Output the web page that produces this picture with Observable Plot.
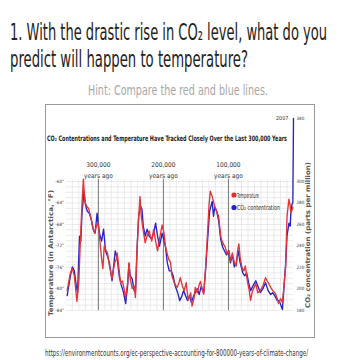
<!DOCTYPE html>
<html><head><meta charset="utf-8">
<script src="https://cdn.jsdelivr.net/npm/d3@7"></script>
<script src="https://cdn.jsdelivr.net/npm/@observablehq/plot@0.6"></script>
<style>
html,body{margin:0;padding:0;background:#fff;}
#page{position:relative;width:360px;height:360px;overflow:hidden;}
#box{position:absolute;left:45px;top:104px;width:270px;height:234px;border:1px solid #9a9a9a;box-sizing:border-box;}
#chart{position:absolute;left:0;top:0;}
#overlay{position:absolute;left:0;top:0;pointer-events:none;}
#overlay text{font-family:"Liberation Sans Narrow","DejaVu Sans Condensed","Liberation Sans",sans-serif;}
</style></head>
<body><div id="page">
<div id="box"></div>
<div id="chart" style="left:45px;top:104px;"></div>
<svg id="overlay" width="360" height="360">
  <text x="10" y="39.5" font-size="23" fill="#222" textLength="317" lengthAdjust="spacingAndGlyphs">1. With the drastic rise in CO₂ level, what do you</text>
  <text x="10" y="66.5" font-size="23" fill="#222" textLength="238" lengthAdjust="spacingAndGlyphs">predict will happen to temperature?</text>
  <text x="88" y="94.5" font-size="13.5" fill="#a8a8a8" textLength="180" lengthAdjust="spacingAndGlyphs">Hint: Compare the red and blue lines.</text>
  <text x="47" y="141" font-size="7.5" font-weight="bold" fill="#222" textLength="240" lengthAdjust="spacingAndGlyphs">CO₂ Contentrations and Temperature Have Tracked Closely Over the Last 300,000 Years</text>
  <text transform="translate(52.5,253) rotate(-90)" text-anchor="middle" font-size="6.5" font-weight="bold" fill="#555" textLength="126" lengthAdjust="spacingAndGlyphs">Temperature (in Antarctica, °F)</text>
  <text transform="translate(309.5,235) rotate(-90)" text-anchor="middle" font-size="6.5" font-weight="bold" fill="#555" textLength="146" lengthAdjust="spacingAndGlyphs">CO₂ concentration (parts per million)</text>
  <circle cx="234" cy="195" r="2.6" fill="#d93030"></circle>
  <text x="237" y="197.5" font-size="7" fill="#333" textLength="22" lengthAdjust="spacingAndGlyphs">Temperature</text>
  <circle cx="234" cy="207.5" r="2.6" fill="#2222c8"></circle>
  <text x="237" y="210" font-size="7" fill="#333" textLength="43" lengthAdjust="spacingAndGlyphs">CO₂ contentration</text>
  <text x="45" y="355.5" font-size="9" fill="#333" textLength="263" lengthAdjust="spacingAndGlyphs">https://environmentcounts.org/ec-perspective-accounting-for-800000-years-of-climate-change/</text>
</svg>
</div>
<script>
// Temperature in Antarctica (°F), thousands of years relative to present
const tempYears = [-348,-343,-340,-337,-333,-330,-328,-325,-323,-321,
-318,-315,-312,-309,-306,-303,-300,-298,-295,-293,
-291,-288,-286,-283,-279,-275,-272,-271,-268,-266,
-263,-260,-258,-255,-253,-251,-248,-245,-243,-241,
-238,-236,-234,-231,-228,-225,-222,-218,-215,-212,
-209,-206,-202,-199,-197,-194,-192,-189,-187,-184,
-182,-179,-176,-174,-171,-168,-165,-162,-158,-156,
-153,-151,-148,-145,-143,-140,-138,-135,-132,-130,
-128,-125,-122,-120,-117,-115,-112,-110,-107,-105,
-102,-99,-97,-94,-91,-88,-86,-84,-82,-79,
-76,-74,-71,-68,-66,-63,-58,-55,-51,-47,
-43,-39,-35,-32,-28,-25,-23,-20,-17,-15,
-12,-10,-7,-5,-4,-2,-1];
const tempValues = [-80.3,-77.0,-76.2,-77.5,-82.3,-78.5,-72.0,-63.7,-59.4,-63.7,
-64.6,-65.0,-66.5,-68.3,-69.6,-68.3,-67.7,-70.7,-74.4,-76.2,
-72.0,-72.9,-73.3,-75.7,-78.1,-75.1,-74.4,-73.3,-76.6,-78.8,
-78.5,-80.3,-81.6,-78.8,-75.1,-78.1,-79.9,-79.4,-81.6,-73.8,
-66.5,-62.8,-66.5,-69.2,-71.4,-70.1,-69.2,-71.1,-68.9,-71.1,
-72.9,-70.7,-68.1,-69.6,-72.0,-73.5,-74.4,-75.1,-77.5,-78.6,
-79.2,-79.7,-78.8,-77.9,-79.4,-80.3,-78.8,-82.1,-80.7,-83.2,
-81.8,-79.7,-80.7,-79.2,-78.6,-80.3,-81.0,-75.7,-69.2,-64.6,
-61.8,-62.8,-64.2,-65.0,-65.9,-66.6,-70.1,-71.1,-71.8,-72.2,
-73.5,-72.9,-74.8,-73.3,-75.1,-75.7,-72.9,-71.6,-74.2,-76.1,
-76.6,-75.7,-78.5,-80.3,-82.1,-80.3,-79.0,-80.7,-80.3,-79.4,
-77.9,-78.8,-79.7,-80.3,-80.8,-81.8,-82.7,-81.8,-82.5,-79.9,
-75.7,-66.5,-63.3,-64.6,-65.9,-65.2,-64.8];

// CO2 concentration (ppm)
const co2Years = [-348,-343,-340,-337,-334,-332,-329,-327,-325,-322,
-320,-317,-314,-311,-308,-305,-302,-300,-298,-295,
-292,-289,-286,-283,-279,-277,-274,-271,-268,-265,
-262,-258,-255,-253,-251,-248,-245,-243,-240,-238,
-235,-233,-231,-228,-225,-222,-218,-215,-212,-209,
-206,-202,-199,-197,-194,-191,-188,-185,-182,-178,
-175,-172,-169,-166,-163,-160,-157,-154,-151,-148,
-145,-142,-138,-135,-132,-129,-127,-125,-123,-121,
-118,-115,-112,-109,-106,-103,-100,-97,-94,-91,
-88,-85,-82,-78,-75,-72,-69,-66,-63,-58,
-55,-51,-47,-43,-39,-35,-32,-28,-25,-22,
-17,-15,-12,-10,-7,-5,-4,-2,-1,0];
const co2Values = [193.8,212.3,220.6,216.9,203.1,196.6,249.2,244.6,272.3,290.8,
278.8,272.3,270.5,264.9,255.7,252.0,270.5,258.5,251.1,244.6,
255.7,235.4,230.8,224.3,207.7,218.8,235.4,228.0,212.3,204.0,
198.5,186.5,203.1,223.4,212.3,209.5,198.5,196.6,244.6,267.7,
276.9,274.2,258.5,249.2,255.7,249.2,246.5,252.0,261.2,249.2,
240.0,252.0,244.6,240.0,224.3,216.9,216.9,212.3,203.1,196.6,
189.2,192.9,198.5,193.8,189.2,193.8,187.4,192.9,196.6,200.3,
194.8,202.2,196.6,218.8,246.5,272.3,276.9,281.5,267.7,276.0,
272.3,263.1,246.5,239.1,235.4,231.7,235.4,224.3,231.7,220.6,
224.3,235.4,224.3,215.1,212.3,215.1,205.9,198.5,202.2,207.7,
203.1,196.6,200.3,205.9,198.5,194.8,196.6,192.9,189.2,189.2,
180.9,198.5,224.3,249.2,261.2,258.5,272.3,279.7,280,380];

const tempTicks = [-60,-64,-68,-72,-76,-80,-84];
const co2Ticks = [180,200,220,240,260,280,300,380];
const markYears = [-300,-200,-100];
const markLabels = ["300,000\nyears ago","200,000\nyears ago","100,000\nyears ago"];
const latestLabel = "2007";

// temperature is drawn against the CO2 scale: -60°F ↔ 300 ppm, -84°F ↔ 180 ppm
const toPpm = t => 300 + (t + 60) * 5;

const tempData = tempYears.map((t, i) => ({t, v: tempValues[i]}));
const co2Data = co2Years.map((t, i) => ({t, v: co2Values[i]}));

const chart = Plot.plot({
  width: 270, height: 234,
  marginLeft: 21, marginRight: 22, marginTop: 74, marginBottom: 26,
  style: {fontFamily: "'Liberation Sans Narrow','DejaVu Sans Condensed',sans-serif", fontSize: "5px", color: "#333", background: "transparent", overflow: "visible"},
  x: {domain: [-349, 0], axis: null},
  y: {type: "linear", domain: [180, 300, 380], range: [206, 77, 14], axis: null},
  marks: [
    Plot.ruleY(d3.range(180, 301, 5), {x1: -349, x2: 0, stroke: "#dedede", strokeWidth: 0.6}),
    Plot.ruleX(d3.range(-340, 0, 10), {y1: 180, y2: 302, stroke: "#dedede", strokeWidth: 0.6}),
    Plot.ruleX(markYears, {y1: 180, y2: 303, stroke: "#6a6a6a", strokeWidth: 0.9}),
    Plot.text(markYears, {x: d => d, y: 304, text: (d, i) => markLabels[i], lineAnchor: "bottom", lineHeight: 1.75, fontSize: 6.5, fill: "#333"}),
    Plot.line(co2Data, {x: "t", y: "v", stroke: "#2323c8", strokeWidth: 1.35}),
    Plot.line(tempData, {x: "t", y: d => toPpm(d.v), stroke: "#e2353a", strokeWidth: 1.35}),
    Plot.axisY(tempTicks.map(toPpm), {anchor: "left", tickSize: 0, tickPadding: 2.5, label: null,
      tickFormat: v => `${(v - 300) / 5 - 60}°`, fontSize: 4.5}),
    Plot.axisY(co2Ticks, {anchor: "right", tickSize: 0, tickPadding: 3, label: null, fontSize: 4.5}),
    Plot.text([0], {x: d => d, y: 380, text: [latestLabel], textAnchor: "end", dx: -5, fontSize: 5.5, fill: "#333"})
  ]
});
document.getElementById("chart").appendChild(chart);
</script>
</body></html>
